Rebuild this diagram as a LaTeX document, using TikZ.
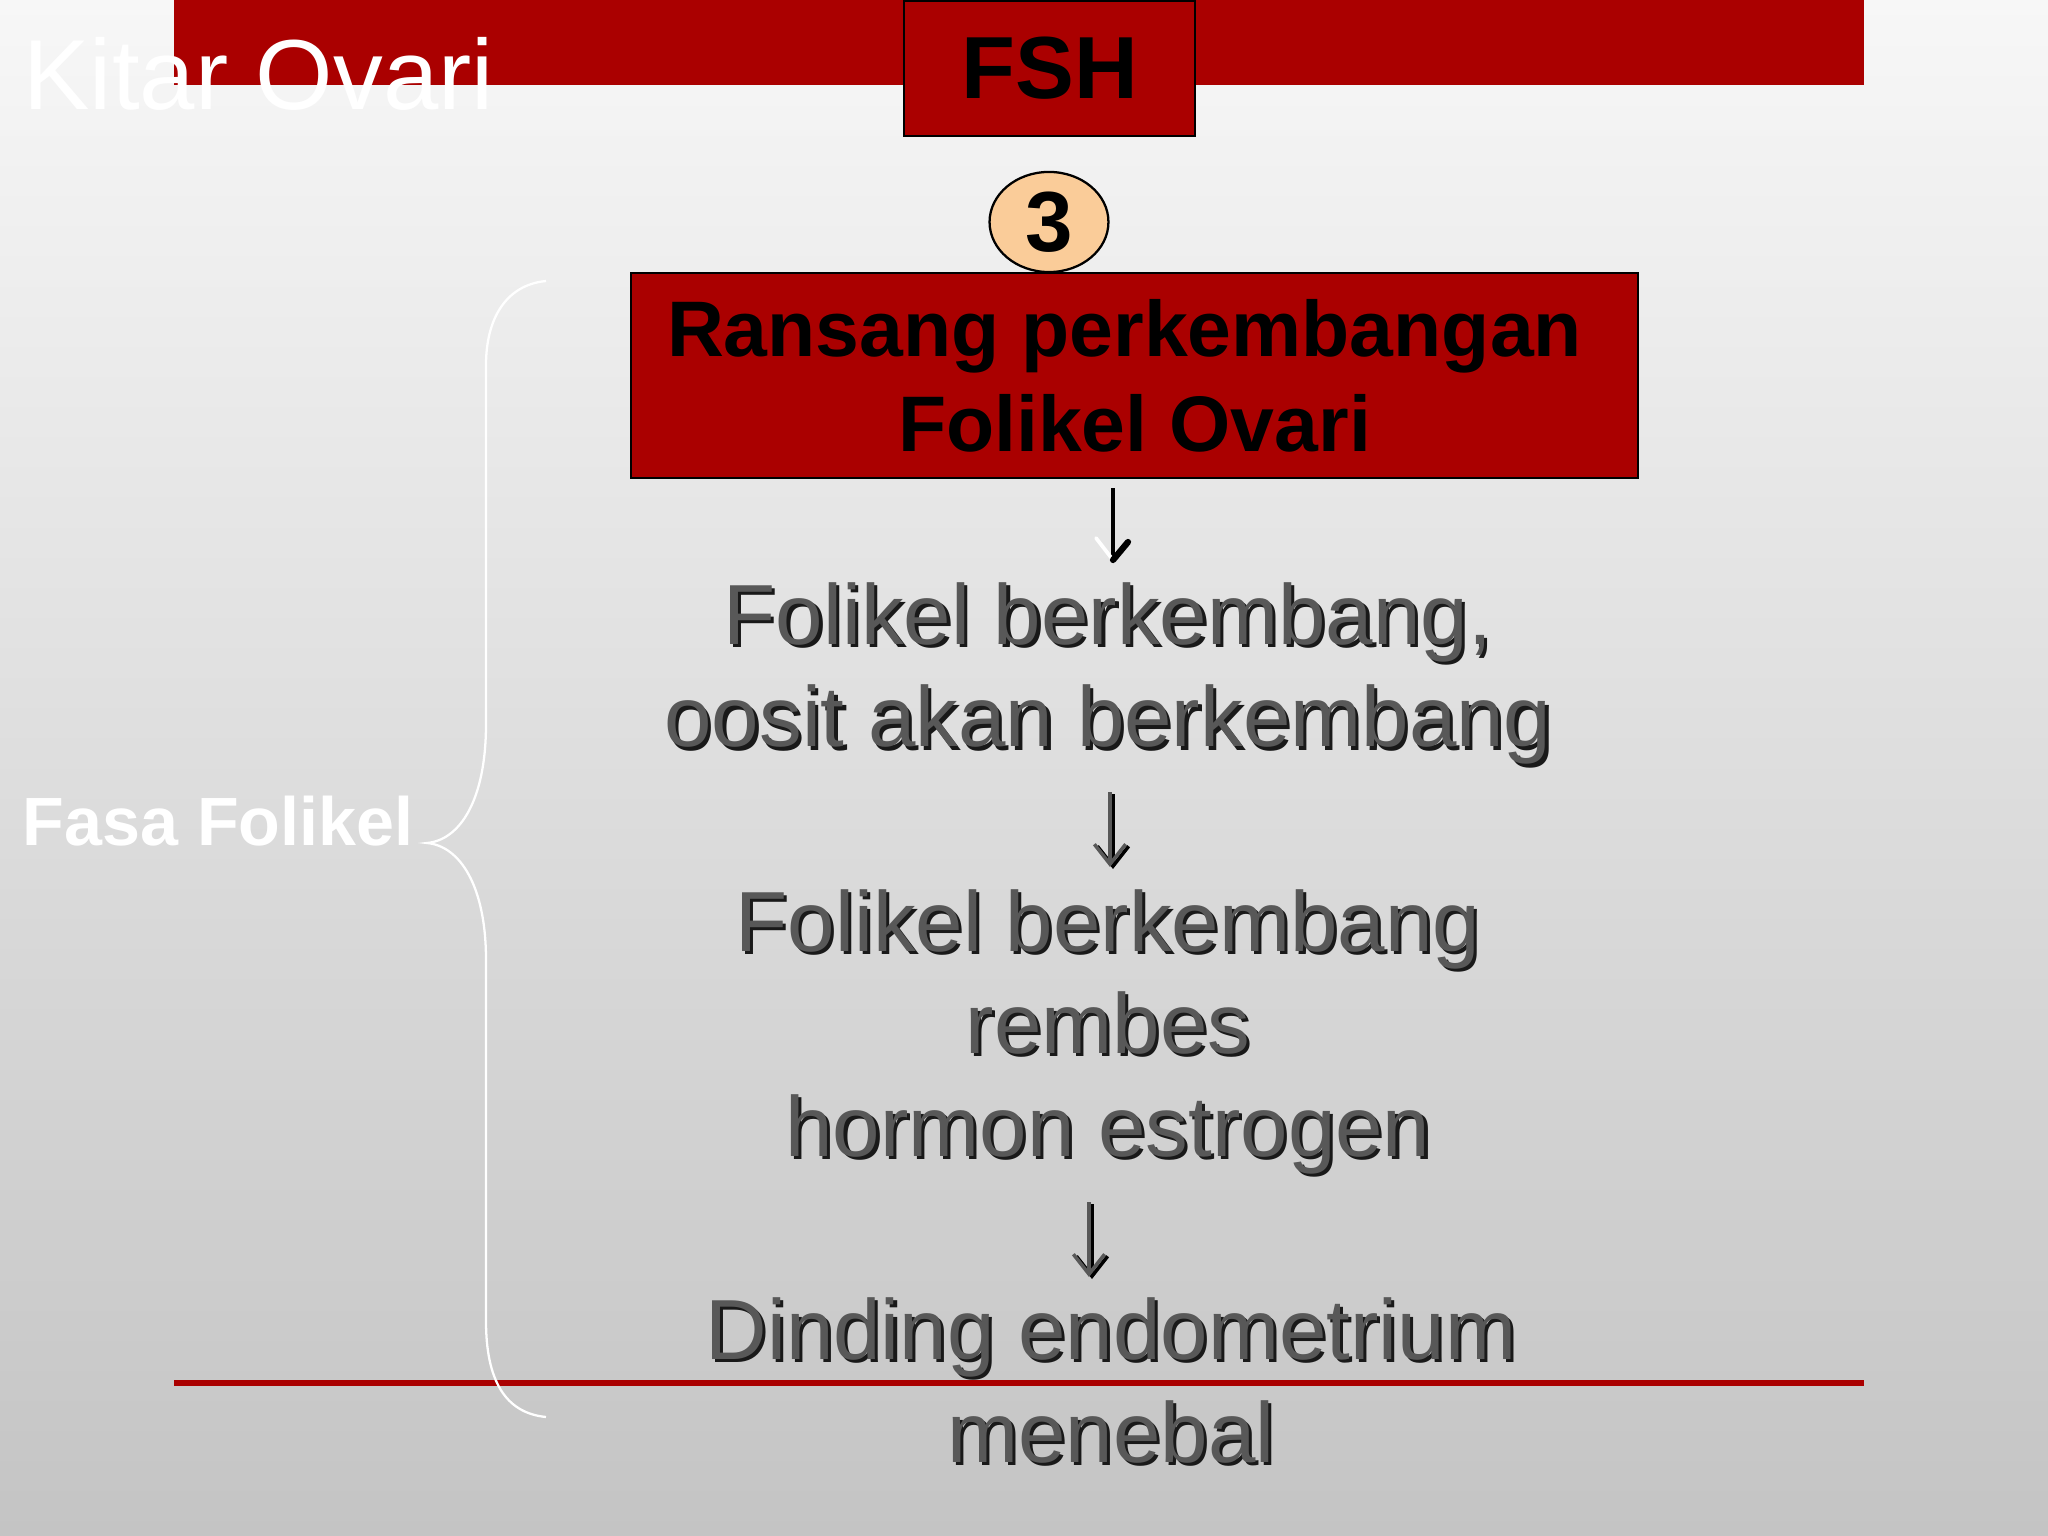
\documentclass[tikz,border=0pt]{standalone}
\usepackage{fontspec}
\setmainfont{Liberation Sans}
\usetikzlibrary{shapes.geometric,arrows.meta,calc}
\definecolor{slidered}{RGB}{170,0,0}
\definecolor{peach}{RGB}{250,204,153}
\definecolor{txtgray}{RGB}{88,88,88}
\definecolor{bgtop}{RGB}{247,247,247}
\definecolor{bgbot}{RGB}{196,196,196}
\newcommand\shd[1]{\makebox[0pt][l]{\kern1.1pt\raisebox{-1.1pt}{\textcolor{black!90}{#1}}}\textcolor{txtgray}{#1}}
\begin{document}
\begin{tikzpicture}[x=0.3515625pt,y=-0.3515625pt,
  redbox/.style={draw=black, line width=0.8pt, fill=slidered, inner sep=0pt, text=black},
  flowtext/.style={align=center, inner sep=0pt, anchor=base, font=\fontsize{30}{36}\selectfont},
  grayarrow/.style={line width=1.25pt, -{Straight Barb[length=7pt,width=11pt]}},
  bracestyle/.style={white, line width=0.8pt}
]
\useasboundingbox (0,0) rectangle (2048,1536);
\shade[top color=bgtop, bottom color=bgbot] (0,0) rectangle (2048,1536);
\fill[slidered] (174,0) rectangle (1864,85);
\draw[slidered, line width=1.8pt] (174,1383) -- (1864,1383);

% brace
\draw[bracestyle] (546,281) .. controls (505,285) and (486,320) .. (486,365)
  -- (486,724) .. controls (486,800) and (460,840) .. (427,843)
  .. controls (460,846) and (486,886) .. (486,960)
  -- (486,1321) .. controls (486,1380) and (505,1413) .. (546,1417);

\node[anchor=base west, inner sep=0pt, text=white, font=\fontsize{35}{42}\selectfont] (title) at (23,110) {Kitar Ovari};
\node[anchor=base west, inner sep=0pt, text=white, font=\bfseries\fontsize{24}{29}\selectfont] (fasa) at (22,845) {Fasa Folikel};

\node[redbox, minimum width=102.3pt, minimum height=47.5pt, font=\bfseries\fontsize{31}{37}\selectfont] (fsh) at (1049.5,68.5) {FSH};
\node[redbox, minimum width=354pt, minimum height=72.1pt, align=center, font=\bfseries\fontsize{27.7}{33.4}\selectfont] (ransang) at (1134.5,375.5) {Ransang perkembangan\hspace*{7pt}\\Folikel Ovari};
\node[ellipse, draw=black, line width=0.8pt, fill=peach, minimum width=41.8pt, minimum height=35.2pt, inner sep=0pt, font=\bfseries\fontsize{30}{36}\selectfont] (three) at (1049,222) {3};

% base anchor = baseline of the last line
\node[flowtext] (t1) at (1108,747) {\shd{Folikel berkembang,}\\\shd{oosit akan berkembang}};
\node[flowtext] (t2) at (1108,1156) {\shd{Folikel berkembang}\\\shd{rembes}\hspace*{6pt}\\\shd{hormon estrogen}};
\node[flowtext] (t3) at (1111,1462) {\shd{Dinding endometrium}\\\shd{menebal}};

% arrow 1
\coordinate (a1s) at ($(ransang.south)+(-21.5,9)$);
\coordinate (a1e) at ($(t1.base)+(5,-187)$);
\draw[line width=1.1pt] (a1s) -- (a1e);
\draw[white, line width=1.3pt, line cap=round] (a1e) -- ++(-17,-22);
\draw[line width=2.2pt, line cap=round] (a1e) -- ++(15,-18);

% arrow 2
\coordinate (a2s) at ($(t1.base)+(2,45)$);
\coordinate (a2e) at ($(t2.base)+(2,-289)$);
\draw[grayarrow, black] ($(a2s)+(3,2)$) -- ($(a2e)+(3,2)$);
\draw[grayarrow, txtgray] (a2s) -- (a2e);

% arrow 3
\coordinate (a3s) at ($(t2.base)+(-19,46)$);
\coordinate (a3e) at ($(t3.base)+(-22,-185)$);
\draw[grayarrow, black] ($(a3s)+(3,2)$) -- ($(a3e)+(3,2)$);
\draw[grayarrow, txtgray] (a3s) -- (a3e);
\end{tikzpicture}
\end{document}
